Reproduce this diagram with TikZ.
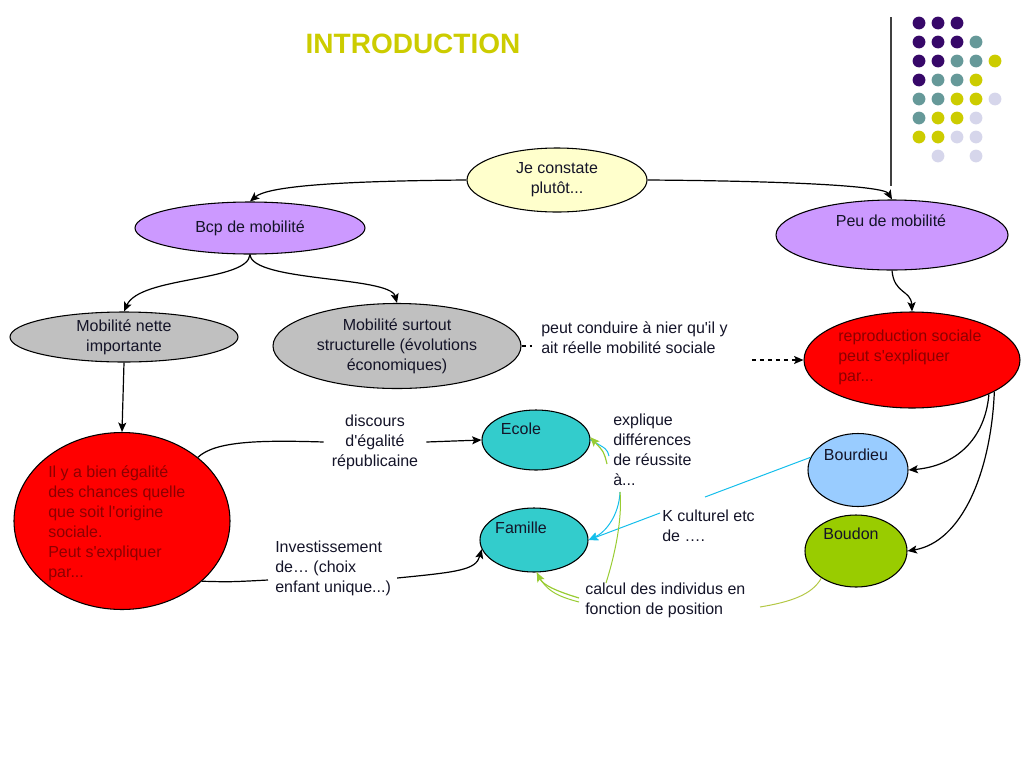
\documentclass[tikz,border=0pt]{standalone}
\usepackage{fontspec}
\setmainfont{Liberation Sans}[Ligatures=TeXOff]
\usetikzlibrary{shapes.geometric,arrows.meta}
\definecolor{jeyel}{RGB}{255,255,204}
\definecolor{lilac}{RGB}{204,153,255}
\definecolor{greyfill}{RGB}{192,192,192}
\definecolor{tealfill}{RGB}{51,204,204}
\definecolor{bluefill}{RGB}{153,204,255}
\definecolor{greenfill}{RGB}{153,204,0}
\definecolor{darkred}{RGB}{140,0,0}
\definecolor{ink}{RGB}{20,20,40}
\definecolor{titlecol}{RGB}{204,204,0}
\definecolor{dpur}{RGB}{55,8,105}
\definecolor{dteal}{RGB}{102,153,153}
\definecolor{dyel}{RGB}{204,204,0}
\definecolor{dlav}{RGB}{214,214,235}
\definecolor{cyanl}{RGB}{20,190,235}
\definecolor{greenl}{RGB}{153,204,51}
\definecolor{olivel}{RGB}{180,200,70}
\newcommand\lblfont{\fontsize{12}{15}\selectfont}
\begin{document}
\begin{tikzpicture}[x=0.75pt,y=-0.75pt,
  ell/.style={ellipse, draw=black, line width=0.8pt, inner sep=0pt, font=\lblfont, align=center, text=ink},
  txt/.style={font=\lblfont, inner sep=0pt, align=left, text=ink},
  tip/.style={-{Stealth[length=7pt,width=6pt,inset=1.5pt]}},
  conn/.style={line width=0.9pt, tip},
  thin/.style={line width=0.75pt}]
\useasboundingbox (0,0) rectangle (1024,768);

% title
\node[font=\fontsize{21}{25}\selectfont\bfseries, text=titlecol] (title) at (413,44) {INTRODUCTION};

% decoration
\draw[line width=1.1pt, black!75] (891,17) -- (891,186);
\foreach \x/\y/\c in {919/23/dpur,938/23/dpur,957/23/dpur,
  919/42/dpur,938/42/dpur,957/42/dpur,976/42/dteal,
  919/61/dpur,938/61/dpur,957/61/dteal,976/61/dteal,995/61/dyel,
  919/80/dpur,938/80/dteal,957/80/dteal,976/80/dyel,
  919/99/dteal,938/99/dteal,957/99/dyel,976/99/dyel,995/99/dlav,
  919/118/dteal,938/118/dyel,957/118/dyel,976/118/dlav,
  919/137/dyel,938/137/dyel,957/137/dlav,976/137/dlav,
  938/156/dlav,976/156/dlav}
  \fill[\c] (\x,\y) circle[radius=4.8pt];

% ellipses
\node[ell, fill=jeyel, minimum width=135pt, minimum height=48pt] (je) at (557,180) {Je constate\\plutôt...};
\node[ell, fill=lilac, minimum width=172.5pt, minimum height=39pt] (bcp) at (250,228) {Bcp de mobilité};
\node[ell, fill=lilac, minimum width=174pt, minimum height=52.5pt] (peu) at (892,235) {};
\node[txt] (peuT) at (891,221) {Peu de mobilité};
\node[ell, fill=greyfill, minimum width=171pt, minimum height=37.5pt] (nette) at (124,337) {Mobilité nette\\importante};
\node[ell, fill=greyfill, minimum width=186pt, minimum height=63.75pt] (surtout) at (397,346) {Mobilité surtout\\structurelle (évolutions\\économiques)};
\node[ell, fill=red, minimum width=162pt, minimum height=72pt] (repro) at (912,360) {};
\node[txt, text=darkred, anchor=west] (reproT) at (838,357) {reproduction sociale\\peut s'expliquer\\par...};
\node[ell, fill=red, minimum width=162pt, minimum height=132.75pt] (big) at (122,521) {};
\node[txt, text=darkred, anchor=west] (bigT) at (48,523) {Il y a bien égalité\\des chances quelle\\que soit l'origine\\sociale.\\Peut s'expliquer\\par...};
\node[ell, fill=tealfill, minimum width=81pt, minimum height=45pt] (ecole) at (536,440) {};
\node[txt] (ecoleT) at (521,429) {Ecole};
\node[ell, fill=tealfill, minimum width=81pt, minimum height=48pt] (famille) at (534,540) {};
\node[txt] (familleT) at (521,528) {Famille};
\node[ell, fill=bluefill, minimum width=75pt, minimum height=54.75pt] (bourdieu) at (858,470) {};
\node[txt] (bourdieuT) at (856,455) {Bourdieu};
\node[ell, fill=greenfill, minimum width=76.5pt, minimum height=54pt] (boudon) at (856,551) {};
\node[txt] (boudonT) at (851,534) {Boudon};

% link labels
\node[txt, align=center, inner xsep=6pt] (disc) at (375,442) {discours\\d'égalité\\républicaine};
\node[txt, anchor=west] (peut) at (541,338) {peut conduire à nier qu'il y\\ait réelle mobilité sociale};
\node[txt, anchor=west] (expl) at (613,450) {explique\\différences\\de réussite\\à...};
\node[txt, anchor=west] (kc) at (662,526) {K culturel etc\\de ….};
\node[txt, anchor=west] (calc) at (585,600) {calcul des individus en\\fonction de position};
\node[txt, anchor=west] (inv) at (275,568) {Investissement\\de… (choix\\enfant unique...)};

\coordinate (k1) at (705,497);
\coordinate (k2) at (660,513);
\coordinate (ex) at (620,492);
\coordinate (e1) at (607,464);
\coordinate (e2) at (609,456);
\coordinate (c1) at (606,583);
\coordinate (c2) at (579,598);
\coordinate (c3) at (579,602);
\coordinate (c4) at (760,607);

% black connectors
\draw[conn] (je.west) .. controls (340,181) and (268,186) .. (bcp.north);
\draw[conn] (je.east) .. controls (790,181) and (884,186) .. (peu.north);
\draw[conn] (bcp.south) .. controls (248,282) and (140,276) .. (nette.north);
\draw[conn] (bcp.south) .. controls (252,282) and (390,276) .. (surtout.north);
\draw[conn] (nette.south) -- (big.north);
\draw[conn] (peu.south) .. controls (894,294) and (911,290) .. (repro.north);
\draw[conn] (repro.-24) .. controls (985,440) and (955,466) .. (bourdieu.east);
\draw[conn] (repro.-21) .. controls (991,472) and (962,542) .. (boudon.east);
\draw[line width=0.9pt, dash pattern=on 3.5pt off 2.5pt, shorten >=7pt] (surtout.east) -- (peut.west |- surtout.east);
\draw[conn, dash pattern=on 3.5pt off 2.5pt, shorten <=18pt] (peut.east |- repro.west) -- (repro.west);
\draw[line width=0.9pt] (big.40) .. controls (215,441) and (260,440) .. (disc.west);
\draw[conn] (disc.east) -- (ecole.west);
\draw[line width=0.9pt] (big.-37) .. controls (230,582) .. ([shift={(-7,12)}]inv.west);
\draw[conn] ([shift={(6,10)}]inv.east) .. controls (458,572) and (476,570) .. (famille.190);

% coloured connectors
\draw[cyanl, thin] (bourdieu.165) -- (k1);
\draw[cyanl, thin, tip] (k2) -- (famille.east);
\draw[cyanl, thin, tip] (ex) .. controls (619,515) and (606,532) .. (famille.east);
\draw[greenl, thin] (c1) .. controls (618,545) and (622,512) .. (ex);
\draw[cyanl, thin] (e2) .. controls (607,449) .. (ecole.east);
\draw[greenl, line width=0.9pt, tip] (e1) .. controls (604,452) .. (ecole.3);
\draw[greenl, thin] (c3) .. controls (556,596) and (545,590) .. (famille.-85);
\draw[greenl, line width=0.9pt, tip] (c2) .. controls (556,591) and (543,585) .. (famille.-85);
\draw[olivel, thin] (boudon.218) .. controls (812,595) and (790,602) .. (c4);
\end{tikzpicture}
\end{document}
